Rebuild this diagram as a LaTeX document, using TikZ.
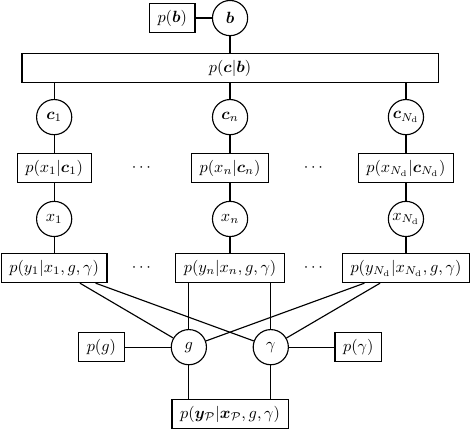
\documentclass[tikz,border=0pt]{standalone}
\usepackage{bm}
\usetikzlibrary{calc,positioning}
\tikzset{
  varnode/.style={circle, draw, inner sep=0pt, minimum size=0.76cm},
  factornode/.style={rectangle, draw, inner xsep=5pt, minimum height=0.63cm},
  edgeline/.style={line width=0.7pt}
}

\begin{document}
\begin{tikzpicture}[every node/.style={line width=0.7pt}]
    \useasboundingbox (0,0) rectangle (10.24,-9.29);

    \pgfmathsetmacro{\colA}{1.17}
    \pgfmathsetmacro{\colB}{4.97}
    \pgfmathsetmacro{\colC}{8.77}

    \pgfmathsetmacro{\rowB}{-0.39}
    \pgfmathsetmacro{\rowPc}{-1.47}
    \pgfmathsetmacro{\rowC}{-2.53}
    \pgfmathsetmacro{\rowPx}{-3.63}
    \pgfmathsetmacro{\rowX}{-4.73}
    \pgfmathsetmacro{\rowPy}{-5.79}
    \pgfmathsetmacro{\rowG}{-7.50}
    \pgfmathsetmacro{\rowPyP}{-8.95}

    % Prior on b
    \draw (\colB,\rowB) node[varnode] (b) {$\bm{b}$};
    \draw (3.72,\rowB) node[factornode, minimum width=0.95cm] (pb) {$p(\bm{b})$};
    \draw[edgeline] (pb) -- (b);

    % Shared factor p(c|b)
    \draw (\colB,\rowPc) node[factornode, minimum width=8.99cm] (pcb) {$p(\bm{c}|\bm{b})$};
    \draw[edgeline] (b) -- (pcb);

    % Column 1
    \draw (\colA,\rowC) node[varnode] (c1) {$\bm{c}_1$};
    \draw (\colA,\rowPx) node[factornode] (px1) {$p(x_1|\bm{c}_1)$};
    \draw (\colA,\rowX) node[varnode] (x1) {$x_1$};
    \draw (\colA,\rowPy) node[factornode] (py1) {$p(y_1|x_1,g,\gamma)$};
    \draw[edgeline] (pcb.south -| c1) -- (c1) -- (px1) -- (x1) -- (py1);

    % Column n
    \draw (\colB,\rowC) node[varnode] (cn) {$\bm{c}_n$};
    \draw (\colB,\rowPx) node[factornode] (pxn) {$p(x_n|\bm{c}_n)$};
    \draw (\colB,\rowX) node[varnode] (xn) {$x_n$};
    \draw (\colB,\rowPy) node[factornode] (pyn) {$p(y_n|x_n,g,\gamma)$};
    \draw[edgeline] (pcb.south -| cn) -- (cn) -- (pxn) -- (xn) -- (pyn);

    % Column N_d
    \draw (\colC,\rowC) node[varnode] (cN) {$\bm{c}_{N_\mathrm{d}}$};
    \draw (\colC,\rowPx) node[factornode] (pxN) {$p(x_{N_\mathrm{d}}|\bm{c}_{N_\mathrm{d}})$};
    \draw (\colC,\rowX) node[varnode] (xN) {$x_{N_\mathrm{d}}$};
    \draw (\colC,\rowPy) node[factornode] (pyN) {$p(y_{N_\mathrm{d}}|x_{N_\mathrm{d}},g,\gamma)$};
    \draw[edgeline] (pcb.south -| cN) -- (cN) -- (pxN) -- (xN) -- (pyN);

    % Dots between columns
    \draw node (dotsx1) at ($(px1.east)!0.5!(pxn.west)$) {$\cdots$};
    \draw node (dotsx2) at ($(pxn.east)!0.5!(pxN.west)$) {$\cdots$};
    \draw node (dotsy1) at ($(py1.east)!0.5!(pyn.west)$) {$\cdots$};
    \draw node (dotsy2) at ($(pyn.east)!0.5!(pyN.west)$) {$\cdots$};

    % Noise parameters g and gamma
    \draw (4.08,\rowG) node[varnode] (g) {$g$};
    \draw (5.85,\rowG) node[varnode] (ga) {$\gamma$};
    \draw (2.19,\rowG) node[factornode, minimum width=0.95cm] (pg) {$p(g)$};
    \draw (7.74,\rowG) node[factornode, minimum width=0.95cm] (pga) {$p(\gamma)$};
    \draw[edgeline] (pg) -- (g);
    \draw[edgeline] (ga) -- (pga);
    \draw[edgeline] (py1) -- (g);
    \draw[edgeline] (py1) -- (ga);
    \draw[edgeline] (pyN) -- (g);
    \draw[edgeline] (pyN) -- (ga);
    \draw[edgeline] (pyn.south -| g) -- (g);
    \draw[edgeline] (pyn.south -| ga) -- (ga);

    % Labelled set
    \draw (\colB,\rowPyP) node[factornode] (pyP) {$p(\bm{y}_\mathcal{P}|\bm{x}_\mathcal{P},g,\gamma)$};
    \draw[edgeline] (g) -- (g |- pyP.north);
    \draw[edgeline] (ga) -- (ga |- pyP.north);
\end{tikzpicture}
\end{document}
